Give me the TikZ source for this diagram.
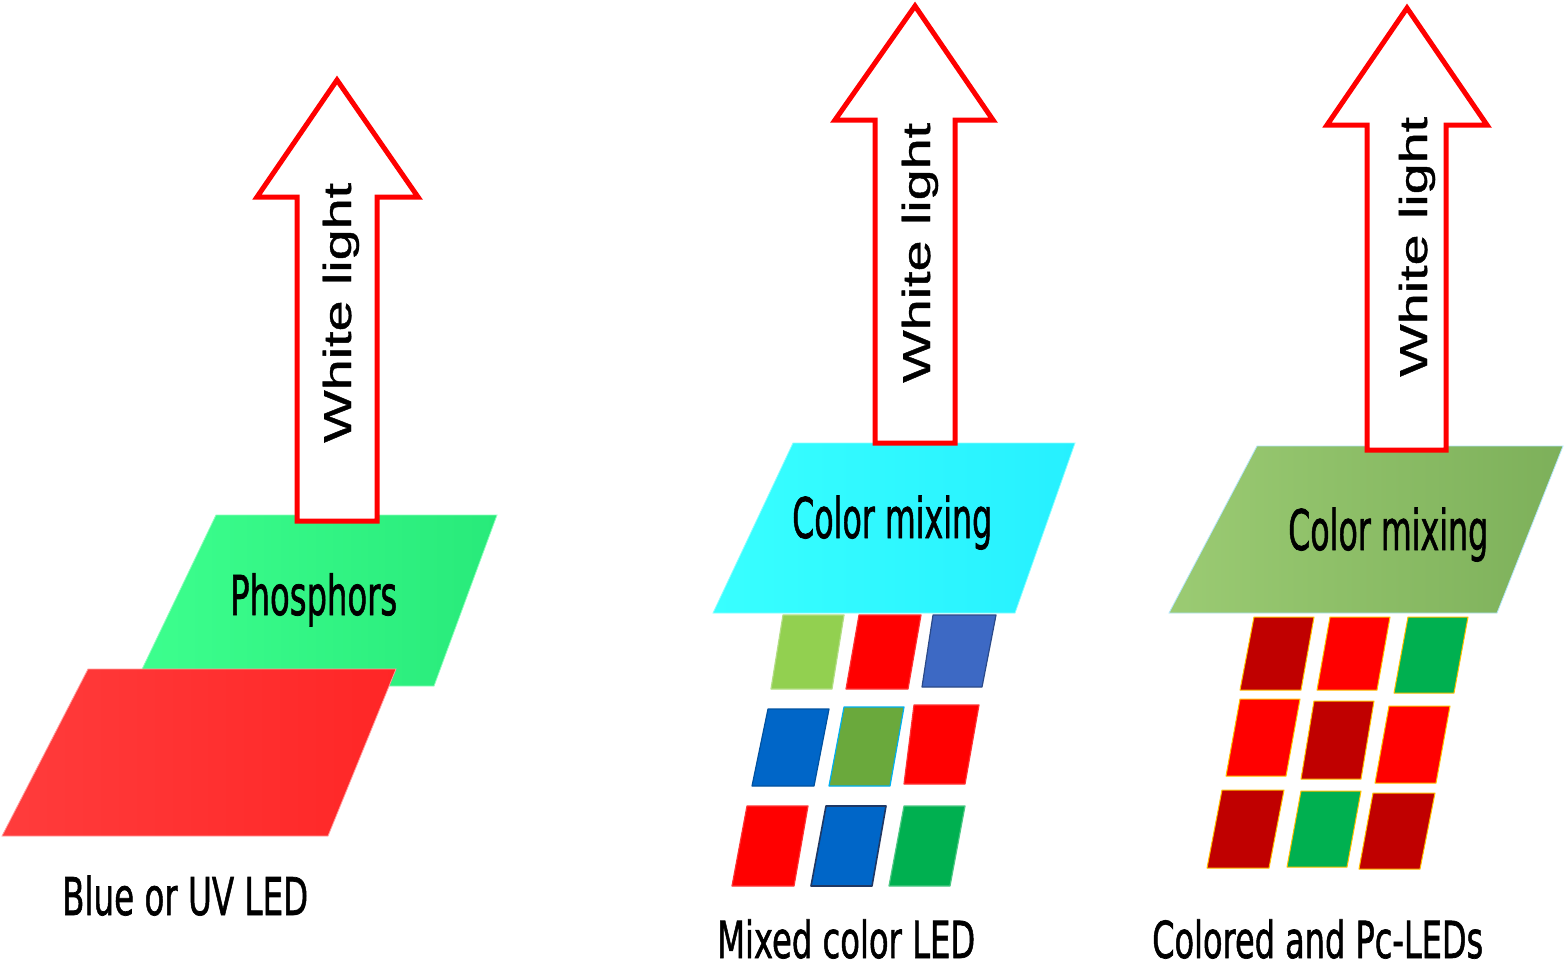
\documentclass[tikz,border=0pt]{standalone}
\usepackage{fontspec}
\usepackage{graphicx}
\setmainfont{DejaVu Sans}
\newfontfamily\lblfont{DejaVu Sans}[FakeBold=1.4]
\newfontfamily\arialfont{Liberation Sans}[FakeBold=0.8]
\definecolor{redL}{HTML}{FF3C3C}
\definecolor{redR}{HTML}{FF2626}
\definecolor{phosL}{HTML}{3DFF8E}
\definecolor{phosR}{HTML}{28EA7A}
\definecolor{cyanL}{HTML}{38FFFF}
\definecolor{cyanR}{HTML}{26F0FF}
\definecolor{mixL}{HTML}{9BCB73}
\definecolor{mixR}{HTML}{7DB05A}
\definecolor{tLgreen}{HTML}{92D050}
\definecolor{tRed}{HTML}{FF0000}
\definecolor{tSteel}{HTML}{3D69C4}
\definecolor{tBlue}{HTML}{0066C8}
\definecolor{tOlive}{HTML}{6AA93C}
\definecolor{tGreen}{HTML}{00B050}
\definecolor{tDark}{HTML}{C00000}
\definecolor{tNavy}{HTML}{1F3864}
\definecolor{tSky}{HTML}{00B0F0}
\definecolor{tEdge}{HTML}{FFC000}
\newcommand{\fitw}[2]{\resizebox{#1}{\height}{#2}}
\begin{document}
\begin{tikzpicture}[x=1pt,y=-1pt,
  arrowbox/.style={draw=red, line width=5pt, fill=white, line join=miter},
  lbl/.style={inner sep=0pt, anchor=base west, text=black},
  wl/.style={inner sep=0pt, anchor=base west, rotate=90, text=black, font=\arialfont\fontsize{39}{42}\selectfont},
  tile/.style={line width=1.2pt, line join=round},
  ptile/.style={tile, draw=tEdge, line width=1pt}]
\useasboundingbox (0,0) rectangle (1565,969);
\fill[white] (0,0) rectangle (1565,969);

% ---------- Panel 1 ----------
\path[draw=phosL!60!white, line width=0.8pt, left color=phosL, right color=phosR]
  (216,515) -- (497,515) -- (434,686) -- (134,686) -- cycle;
\path[draw=redL!50!white, line width=0.8pt, left color=redL, right color=redR]
  (88,669) -- (396,669) -- (328,836) -- (2,836) -- cycle;
\draw[arrowbox] (337,80) -- (418,197) -- (377,197) -- (377,521) -- (297,521) -- (297,197) -- (257,197) -- cycle;
\node[wl] (w1) at (351,443) {\fitw{260pt}{White light}};
\node[lbl, font=\lblfont\fontsize{55}{60}\selectfont] (phos) at (230,615) {\fitw{167pt}{Phosphors}};
\node[lbl, font=\lblfont\fontsize{52}{56}\selectfont] (blue) at (62,915) {\fitw{246pt}{Blue or UV LED}};

% ---------- Panel 2 ----------
\path[draw=cyanL!60!white, line width=0.8pt, left color=cyanL, right color=cyanR]
  (793,443) -- (1075,443) -- (1015,613) -- (713,613) -- cycle;
\draw[arrowbox] (915,6) -- (993,120) -- (955,120) -- (955,443) -- (875,443) -- (875,120) -- (835,120) -- cycle;
\node[wl] (w2) at (930,383) {\fitw{260pt}{White light}};
\node[lbl, font=\lblfont\fontsize{56}{60}\selectfont] (mix2) at (792,538) {\fitw{200pt}{Color mixing}};
% tiles
\filldraw[tile, fill=tLgreen, draw=tLgreen!70!white] (783,615) -- (844,615) -- (832,689) -- (771,689) -- cycle;
\filldraw[tile, fill=tRed, draw=tRed!80!white] (859,615) -- (921,615) -- (908,689) -- (846,689) -- cycle;
\filldraw[tile, fill=tSteel, draw=tSteel!70!black] (933,615) -- (996,615) -- (982,687) -- (922,687) -- cycle;
\filldraw[tile, fill=tBlue, draw=tBlue!80!black] (768,709) -- (829,709) -- (814,786) -- (752,786) -- cycle;
\filldraw[tile, fill=tOlive, draw=tSky] (844,707) -- (904,707) -- (890,786) -- (829,786) -- cycle;
\filldraw[tile, fill=tRed, draw=tRed!80!white] (914,705) -- (979,705) -- (965,784) -- (904,784) -- cycle;
\filldraw[tile, fill=tRed, draw=tRed!80!white] (747,806) -- (808,806) -- (794,886) -- (732,886) -- cycle;
\filldraw[tile, fill=tBlue, draw=tNavy, line width=1.6pt] (826,806) -- (886,806) -- (872,886) -- (811,886) -- cycle;
\filldraw[tile, fill=tGreen, draw=tGreen!70!white] (904,806) -- (965,806) -- (950,886) -- (889,886) -- cycle;
\node[lbl, font=\lblfont\fontsize{51}{56}\selectfont] (mixed) at (717,958) {\fitw{258pt}{Mixed color LED}};

% ---------- Panel 3 ----------
\path[draw=cyan!30!white, line width=0.8pt, left color=mixL, right color=mixR]
  (1257,446) -- (1563,446) -- (1497,613) -- (1169,613) -- cycle;
\draw[arrowbox] (1407,8) -- (1487,125) -- (1446,125) -- (1446,450) -- (1367,450) -- (1367,125) -- (1327,125) -- cycle;
\node[wl] (w3) at (1427,377) {\fitw{260pt}{White light}};
\node[lbl, font=\lblfont\fontsize{56}{60}\selectfont] (mix3) at (1288,550) {\fitw{200pt}{Color mixing}};
% tiles
\filldraw[ptile, fill=tDark] (1254,617) -- (1314,617) -- (1301,690) -- (1240,690) -- cycle;
\filldraw[ptile, fill=tRed] (1330,617) -- (1390,617) -- (1377,690) -- (1317,690) -- cycle;
\filldraw[ptile, fill=tGreen] (1408,617) -- (1468,617) -- (1454,693) -- (1394,693) -- cycle;
\filldraw[ptile, fill=tRed] (1240,699) -- (1300,699) -- (1286,776) -- (1226,776) -- cycle;
\filldraw[ptile, fill=tDark] (1314,701) -- (1374,701) -- (1361,779) -- (1301,779) -- cycle;
\filldraw[ptile, fill=tRed] (1389,706) -- (1450,706) -- (1436,783) -- (1375,783) -- cycle;
\filldraw[ptile, fill=tDark] (1222,790) -- (1284,790) -- (1269,868) -- (1207,868) -- cycle;
\filldraw[ptile, fill=tGreen] (1301,791) -- (1361,791) -- (1347,867) -- (1287,867) -- cycle;
\filldraw[ptile, fill=tDark] (1373,793) -- (1435,793) -- (1420,869) -- (1359,869) -- cycle;
\node[lbl, font=\lblfont\fontsize{51}{56}\selectfont] (pc) at (1152,958) {\fitw{331pt}{Colored and Pc-LEDs}};
\end{tikzpicture}
\end{document}
